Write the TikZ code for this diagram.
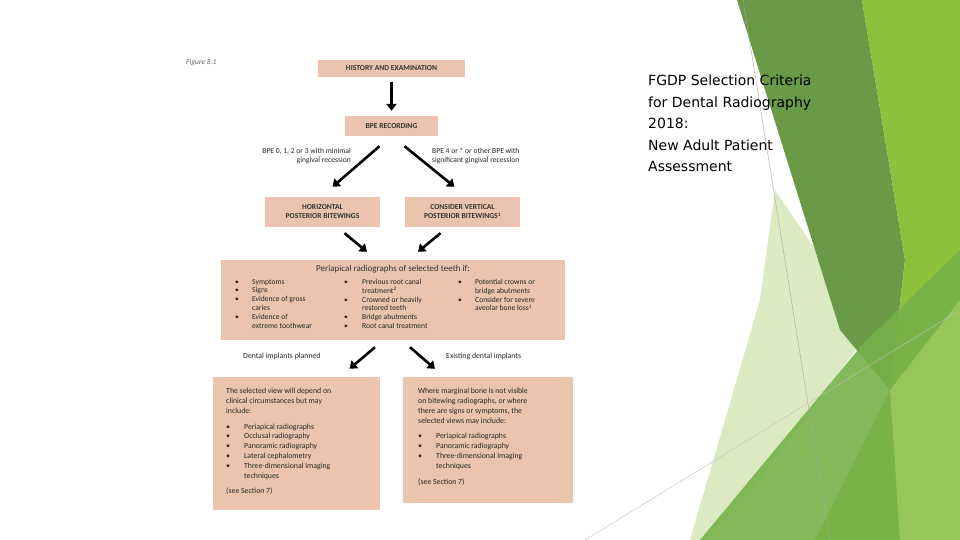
\documentclass[tikz,border=0pt]{standalone}
\usepackage{fontspec}
\setmainfont{Carlito}
\newfontfamily\titlefont{DejaVu Sans}
\usetikzlibrary{positioning,arrows.meta}

\definecolor{boxfill}{HTML}{EBC3AE}
\definecolor{darkleaf}{HTML}{6A9A48}
\definecolor{brightleaf}{HTML}{8DC03C}
\definecolor{midleaf}{HTML}{76B24A}
\definecolor{paleleaf}{HTML}{DCEAC2}

\tikzset{
  stepbox/.style={fill=boxfill, font=\fontsize{7.6}{9}\selectfont\bfseries, text=black!80, align=center, inner sep=0pt},
  infobox/.style={fill=boxfill, inner sep=0pt},
  smalltext/.style={font=\fontsize{7.6}{8.8}\selectfont, text=black!85, inner sep=0pt},
  boxtext/.style={font=\fontsize{7.8}{9.8}\selectfont, text=black!85, inner sep=0pt},
  flow/.style={line width=2.6pt, -{Triangle[length=7pt,width=10pt]}}
}

\begin{document}
\begin{tikzpicture}[x=1pt,y=-1pt]
    % Frame
    \useasboundingbox (0,0) rectangle (960,540);
    \fill[white] (0,0) rectangle (960,540);

    % Green background shapes
    \fill[paleleaf] (775,190) -- (870,330) -- (745,500) -- (705,540) -- (690,540) -- (760,300) -- cycle;
    \fill[darkleaf] (737,0) -- (862,0) -- (905,260) -- (890,390) -- (840,330) -- cycle;
    \fill[brightleaf] (862,0) -- (960,0) -- (960,540) -- (815,540) -- (890,390) -- (905,260) -- cycle;
    \fill[midleaf, opacity=0.9] (700,540) -- (862,345) -- (960,250) -- (960,540) -- cycle;
    \fill[brightleaf!80!white, opacity=0.7] (890,390) -- (960,300) -- (960,540) -- (900,540) -- cycle;
    \draw[gray!70, line width=0.4pt] (743,0) -- (830,540);
    \draw[gray!50, line width=0.4pt] (585,540) -- (960,310);

    % Title
    \node[anchor=north west, align=left, font=\titlefont\fontsize{14}{21.5}\selectfont, inner sep=0pt]
        (title) at (648,75) {FGDP Selection Criteria\\for Dental Radiography\\2018:\\New Adult Patient\\Assessment};

    % Figure label
    \node[anchor=west, font=\fontsize{7.5}{8}\selectfont\itshape, text=black!60, inner sep=0pt] (figlabel) at (186,63) {Figure 8.1};

    % Flow boxes
    \node[stepbox, minimum width=147, minimum height=17] (history) at (391.5,68.5) {HISTORY AND EXAMINATION};
    \node[stepbox, minimum width=93, minimum height=20] (bpe) at (391.5,126) {BPE RECORDING};
    \node[stepbox, minimum width=115, minimum height=30] (horiz) at (322.5,212) {HORIZONTAL\\POSTERIOR BITEWINGS};
    \node[stepbox, minimum width=115, minimum height=30] (vert) at (462.5,212) {CONSIDER VERTICAL\\POSTERIOR BITEWINGS\textsuperscript{1}};
    \node[infobox, minimum width=344, minimum height=80] (peri) at (393,300) {};
    \node[infobox, minimum width=167, minimum height=133] (planned) at (296.5,443.5) {};
    \node[infobox, minimum width=170, minimum height=126] (existing) at (488,440) {};

    % Branch labels
    \node[smalltext, anchor=east, align=right] (lowbpe) at (351,156) {BPE 0, 1, 2 or 3 with minimal\\gingival recession};
    \node[smalltext, anchor=west, align=left] (highbpe) at (432,156) {BPE 4 or * or other BPE with\\significant gingival recession};
    \node[boxtext, anchor=west] (implplan) at (243,356) {Dental implants planned};
    \node[boxtext, anchor=west] (implexist) at (446,356) {Existing dental implants};

    % Periapical criteria
    \node[font=\fontsize{9}{10}\selectfont, text=black!80, inner sep=0pt] (perihead) at (393,269) {Periapical radiographs of selected teeth if:};
    \node[smalltext, anchor=north west, align=left] (colA) at (235,279) {
        \makebox[17pt][l]{•}Symptoms\\\makebox[17pt][l]{•}Signs\\\makebox[17pt][l]{•}Evidence of gross\\\makebox[17pt][l]{}caries\\\makebox[17pt][l]{•}Evidence of\\\makebox[17pt][l]{}extreme toothwear};
    \node[smalltext, anchor=north west, align=left] (colB) at (344,279) {
        \makebox[18pt][l]{•}Previous root canal\\\makebox[18pt][l]{}treatment\textsuperscript{2}\\\makebox[18pt][l]{•}Crowned or heavily\\\makebox[18pt][l]{}restored teeth\\\makebox[18pt][l]{•}Bridge abutments\\\makebox[18pt][l]{•}Root canal treatment};
    \node[smalltext, anchor=north west, align=left] (colC) at (458,279) {
        \makebox[17pt][l]{•}Potential crowns or\\\makebox[17pt][l]{}bridge abutments\\\makebox[17pt][l]{•}Consider for severe\\\makebox[17pt][l]{}aveolar bone loss\textsuperscript{1}};

    % Bottom box texts
    \node[boxtext, anchor=north west, align=left] (planText) at (226,388) {
        The selected view will depend on\\clinical circumstances but may\\include:\\[6pt]
        \makebox[18pt][l]{•}Periapical radiographs\\\makebox[18pt][l]{•}Occlusal radiography\\\makebox[18pt][l]{•}Panoramic radiography\\\makebox[18pt][l]{•}Lateral cephalometry\\\makebox[18pt][l]{•}Three-dimensional imaging\\\makebox[18pt][l]{}techniques\\[6pt]
        (see Section 7)};
    \node[boxtext, anchor=north west, align=left] (existText) at (418,388) {
        Where marginal bone is not visible\\on bitewing radiographs, or where\\there are signs or symptoms, the\\selected views may include:\\[6pt]
        \makebox[18pt][l]{•}Periapical radiographs\\\makebox[18pt][l]{•}Panoramic radiography\\\makebox[18pt][l]{•}Three-dimensional imaging\\\makebox[18pt][l]{}techniques\\[6pt]
        (see Section 7)};

    % Arrows
    \draw[flow] ([shift={(0,5)}]history.south) -- ([shift={(0,-5)}]bpe.north);
    \draw[flow] ([shift={(-12,10)}]bpe.south) -- ([shift={(10,-10)}]horiz.north);
    \draw[flow] ([shift={(13,10)}]bpe.south) -- ([shift={(-8,-10)}]vert.north);
    \draw[flow] ([shift={(22,6)}]horiz.south) -- ([shift={(-26,-8)}]peri.north);
    \draw[flow] ([shift={(-22,6)}]vert.south) -- ([shift={(25,-8)}]peri.north);
    \draw[flow] ([shift={(-18,7)}]peri.south) -- ([shift={(53,-8)}]planned.north);
    \draw[flow] ([shift={(17,7)}]peri.south) -- ([shift={(-53,-8)}]existing.north);
\end{tikzpicture}
\end{document}
